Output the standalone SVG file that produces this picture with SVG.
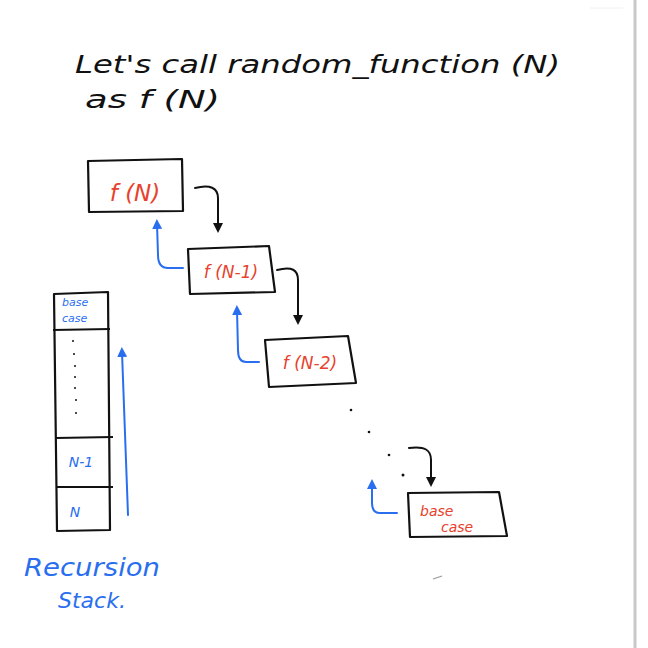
<svg xmlns="http://www.w3.org/2000/svg" width="648" height="648" viewBox="0 0 648 648">
<style>
.box{fill:none;stroke:#111;stroke-width:2.2;stroke-linejoin:round}
.blk{fill:none;stroke:#111;stroke-width:2;stroke-linecap:round}
.blu{fill:none;stroke:#2a6ef0;stroke-width:2;stroke-linecap:round}
.t{font-family:"DejaVu Sans","Noto Sans",sans-serif;font-style:italic}
.red{fill:#e8412c}
.bt{fill:#2a6ef0}
.k{fill:#111}
</style>
<defs>
<marker id="ak" markerWidth="10" markerHeight="10" refX="5" refY="5" orient="auto" markerUnits="userSpaceOnUse"><path d="M0,0 L10,5 L0,10 Z" fill="#111"/></marker>
<marker id="ab" markerWidth="10" markerHeight="10" refX="5" refY="5" orient="auto" markerUnits="userSpaceOnUse"><path d="M0,0 L10,5 L0,10 Z" fill="#2a6ef0"/></marker>
</defs>
<rect width="648" height="648" fill="#fff"/>
<line x1="635" y1="0" x2="635" y2="648" stroke="#c8c8c8" stroke-width="3"/>
<line x1="590" y1="8" x2="623" y2="8" stroke="#f0f0f0" stroke-width="1"/>
<line x1="433" y1="579" x2="442" y2="576" stroke="#999" stroke-width="1.2"/>

<g id="title">
<text class="t k" x="75" y="73" font-size="25" textLength="485" lengthAdjust="spacingAndGlyphs">Let's call random_function (N)</text>
<text class="t k" x="85" y="108" font-size="25" textLength="135" lengthAdjust="spacingAndGlyphs">as  f (N)</text>
</g>

<g id="connectors">
<path class="blk" d="M195,188 C210,184 218,188 218,198 L218,228" marker-end="url(#ak)"/>
<path class="blk" d="M277,270 C292,266 298,270 298,280 L298,320" marker-end="url(#ak)"/>
<path class="blk" d="M409,448 C425,446 431,450 431,460 L431,482" marker-end="url(#ak)"/>
<path class="blu" d="M183,268 L168,268 C160,268 158,262 158,255 L157,224" marker-end="url(#ab)"/>
<path class="blu" d="M259,362 L246,362 C240,362 238,356 238,350 L237,310" marker-end="url(#ab)"/>
<path class="blu" d="M397,513 L380,513 C374,513 372,508 372,503 L372,484" marker-end="url(#ab)"/>
<path class="blu" d="M128,515 L122,352" marker-end="url(#ab)"/>
<g fill="#111">
<circle cx="351" cy="410" r="1.3"/><circle cx="369" cy="432" r="1.3"/><circle cx="389" cy="455" r="1.3"/><circle cx="403" cy="475" r="1.5"/>
</g>
</g>

<g id="fN">
<path class="box" d="M88,161 L182,159 L183,211 L89,212 Z"/>
<text class="t red" x="135" y="201" font-size="23" text-anchor="middle">f (N)</text>
</g>
<g id="fN1">
<path class="box" d="M188,249 L269,246 L275,292 L190,294 Z"/>
<text class="t red" x="231" y="278" font-size="17" text-anchor="middle">f (N-1)</text>
</g>
<g id="fN2">
<path class="box" d="M265,340 L348,336 L356,383 L269,387 Z"/>
<text class="t red" x="310" y="369" font-size="17" text-anchor="middle">f (N-2)</text>
</g>
<g id="base">
<path class="box" d="M408,493 L499,492 L507,536 L410,537 Z"/>
<text class="t red" x="420" y="516" font-size="14">base</text>
<text class="t red" x="441" y="532" font-size="14">case</text>
</g>

<g id="stack">
<path class="box" d="M54,294 L108,292 L110,530 L57,531 Z"/>
<line class="box" x1="53" y1="330" x2="110" y2="329"/>
<line class="box" x1="56" y1="438" x2="113" y2="437"/>
<line class="box" x1="57" y1="487" x2="113" y2="487"/>
<text class="t bt" x="62" y="306" font-size="11">base</text>
<text class="t bt" x="62" y="322" font-size="11">case</text>
<g fill="#111"><circle cx="73" cy="341" r="1"/><circle cx="74" cy="354" r="1"/><circle cx="75" cy="366" r="1"/><circle cx="75" cy="377" r="1"/><circle cx="75" cy="388" r="1"/><circle cx="76" cy="400" r="1"/><circle cx="76" cy="413" r="1"/></g>
<text class="t bt" x="81" y="467" font-size="14" text-anchor="middle">N-1</text>
<text class="t bt" x="75" y="517" font-size="14" text-anchor="middle">N</text>
</g>

<g id="label">
<text class="t bt" x="24" y="576" font-size="24" textLength="136" lengthAdjust="spacingAndGlyphs">Recursion</text>
<text class="t bt" x="58" y="608" font-size="22" textLength="68" lengthAdjust="spacingAndGlyphs">Stack.</text>
</g>
</svg>
